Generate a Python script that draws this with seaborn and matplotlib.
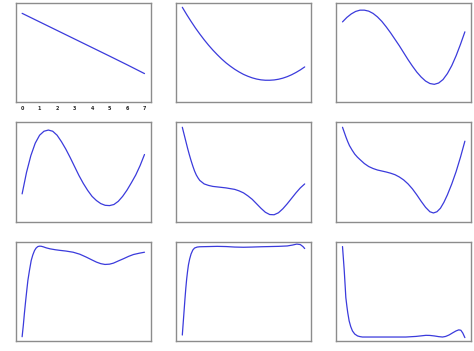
import matplotlib
matplotlib.use("Agg")
import matplotlib.pyplot as plt
import seaborn as sns
import pandas as pd

# ---- data (y expressed in % of panel height) ----
x1 = [0, 1, 2, 3, 4, 5, 6, 7]
y1 = [89.6, 81.0, 72.4, 63.8, 55.2, 46.6, 37.9, 29.0]

x2 = [0, 0.25, 0.5, 0.75, 1, 1.25, 1.5, 1.75, 2, 2.25, 2.5, 2.75, 3, 3.25, 3.5,
      3.75, 4, 4.25, 4.5, 4.75, 5, 5.25, 5.5, 5.75, 6, 6.25, 6.5, 6.75, 7]
y2 = [95.7, 88.4, 81.5, 74.9, 68.8, 63.0, 57.6, 52.6, 48.0, 43.7, 39.8, 36.4, 33.3,
      30.6, 28.2, 26.3, 24.7, 23.5, 22.7, 22.3, 22.3, 22.6, 23.3, 24.4, 25.9, 27.8,
      30.1, 32.7, 35.7]

x3 = [0, 0.25, 0.5, 0.75, 1, 1.25, 1.5, 1.75, 2, 2.25, 2.5, 2.75, 3, 3.25, 3.5,
      3.75, 4, 4.25, 4.5, 4.75, 5, 5.25, 5.5, 5.75, 6, 6.25, 6.5, 6.75, 7]
y3 = [81.0, 85.5, 89.0, 91.5, 92.8, 92.8, 91.8, 89.5, 86.0, 81.5, 76.0, 70.0, 63.5,
      57.0, 50.0, 43.0, 36.5, 30.5, 25.5, 21.5, 19.0, 18.2, 19.5, 23.0, 29.0, 37.0,
      47.0, 58.5, 71.0]

x4 = [0, 0.25, 0.5, 0.75, 1, 1.25, 1.5, 1.75, 2, 2.25, 2.5, 2.75, 3, 3.25, 3.5,
      3.75, 4, 4.25, 4.5, 4.75, 5, 5.25, 5.5, 5.75, 6, 6.25, 6.5, 6.75, 7]
y4 = [28.0, 49.5, 66.5, 79.0, 87.0, 91.0, 92.2, 91.0, 87.0, 80.5, 73.0, 64.5, 55.5,
      46.5, 38.5, 31.5, 25.5, 21.3, 18.2, 16.5, 16.2, 17.3, 20.5, 25.5, 31.8, 39.2,
      47.0, 56.5, 67.6]

x5 = [0, 0.1, 0.2, 0.3, 0.4, 0.5, 0.6, 0.7, 0.8, 0.9, 1.0, 1.25, 1.5, 1.75, 2.0,
      2.5, 3.0, 3.25, 3.5, 3.75, 4.0, 4.25, 4.5, 4.75, 5.0, 5.25, 5.5, 5.75, 6.0,
      6.25, 6.5, 6.75, 7.0]
y5 = [95.0, 88.0, 81.0, 74.0, 67.5, 61.5, 56.0, 51.0, 47.0, 44.0, 41.5, 38.0, 36.5,
      35.5, 35.0, 34.0, 32.5, 31.0, 29.0, 26.0, 22.5, 18.0, 13.5, 9.5, 7.2, 7.0, 9.0,
      13.0, 18.0, 23.5, 29.0, 34.0, 38.0]

x6 = [0, 0.1, 0.2, 0.3, 0.4, 0.55, 0.7, 0.85, 1.0, 1.25, 1.5, 1.75, 2.0, 2.25, 2.5,
      2.75, 3.0, 3.25, 3.5, 3.75, 4.0, 4.25, 4.5, 4.75, 5.0, 5.2, 5.4, 5.6, 5.8, 6.0,
      6.25, 6.5, 6.75, 7.0]
y6 = [95.0, 90.0, 85.0, 80.5, 76.5, 72.0, 68.0, 65.0, 62.5, 58.5, 55.5, 53.5, 52.0,
      51.0, 50.0, 48.8, 47.3, 45.0, 42.0, 38.0, 33.0, 27.0, 20.5, 14.5, 10.0, 8.8,
      10.0, 13.5, 19.5, 27.0, 38.0, 50.5, 65.0, 81.0]

x7 = [0, 0.07, 0.13, 0.2, 0.27, 0.33, 0.42, 0.52, 0.61, 0.71, 0.8, 0.9, 1.0, 1.09,
      1.2, 1.38, 1.6, 1.9, 2.15, 2.5, 2.92, 3.3, 3.68, 4.0, 4.26, 4.5, 4.74, 5.0,
      5.22, 5.5, 5.79, 6.1, 6.37, 6.7, 7.0]
y7 = [4.3, 16.0, 27.7, 40.0, 51.5, 61.0, 71.0, 81.0, 86.5, 91.0, 93.5, 95.0, 95.4,
      95.3, 94.8, 93.7, 92.7, 91.8, 91.2, 90.5, 89.3, 87.3, 84.3, 81.5, 79.3, 77.8,
      77.0, 77.3, 78.3, 80.5, 82.7, 85.2, 87.0, 88.3, 89.3]

x8 = [0, 0.05, 0.1, 0.15, 0.2, 0.25, 0.3, 0.35, 0.42, 0.5, 0.6, 0.7, 0.85, 1.0, 1.5,
      2.0, 2.5, 3.0, 3.5, 4.0, 4.5, 5.0, 5.5, 6.0, 6.3, 6.55, 6.75, 6.9, 7.0]
y8 = [6.0, 18.0, 30.0, 42.0, 53.0, 62.5, 70.0, 76.5, 82.5, 87.5, 91.5, 93.5, 94.5,
      94.8, 95.0, 95.2, 95.0, 94.5, 94.3, 94.5, 94.8, 95.0, 95.2, 95.6, 96.5, 97.5,
      97.0, 95.0, 93.0]

x9 = [0, 0.05, 0.10, 0.15, 0.19, 0.25, 0.3, 0.38, 0.47, 0.57, 0.7, 0.86, 1.0, 1.14,
      2.48, 3.62, 4.2, 4.77, 5.0, 5.25, 5.5, 5.72, 5.9, 6.10, 6.3, 6.49, 6.65, 6.77,
      6.88, 7.0]
y9 = [95.0, 83.0, 70.7, 56.0, 43.8, 35.0, 28.5, 20.2, 14.5, 10.1, 7.0, 5.1, 4.4, 4.0,
      4.0, 4.0, 4.6, 5.7, 5.6, 5.1, 4.4, 4.0, 4.6, 6.1, 8.2, 10.1, 11.2, 10.8, 8.0,
      3.4]

xs = [x1, x2, x3, x4, x5, x6, x7, x8, x9]
ys = [y1, y2, y3, y4, y5, y6, y7, y8, y9]
tick_labels = ["0", "1", "2", "3", "4", "5", "6", "7"]

sns.set_style("white")

fig, axes = plt.subplots(3, 3, figsize=(4.74, 3.51), dpi=100)
fig.subplots_adjust(left=16 / 474, right=471 / 474, bottom=1 - 341 / 351,
                    top=1 - 3 / 351, wspace=0.19, hspace=0.2)

for i, ax in enumerate(axes.flat):
    df = pd.DataFrame({"x": xs[i], "y": ys[i]})
    sns.lineplot(data=df, x="x", y="y", ax=ax, color="#3b3bdc",
                 linewidth=0.9, estimator=None, sort=False)
    ax.set_xlim(-0.35, 7.35)
    ax.set_ylim(0, 100)
    ax.set_xlabel("")
    ax.set_ylabel("")
    ax.set_yticks([])
    if i == 0:
        ax.set_xticks(range(8))
        ax.set_xticklabels(tick_labels, fontsize=3.5, fontweight="bold")
        ax.tick_params(axis="x", length=0, pad=2.5)
    else:
        ax.set_xticks([])
    for s in ax.spines.values():
        s.set_color("#8c8c8c")
        s.set_linewidth(1.0)

fig.savefig("out.png", dpi=100)
